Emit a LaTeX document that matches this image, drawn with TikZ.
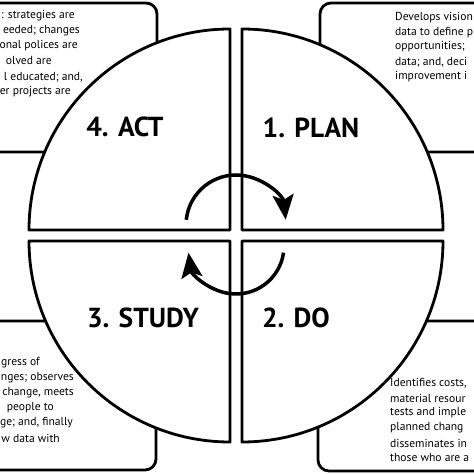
\documentclass[tikz,border=0pt]{standalone}
\usepackage{fontspec}
\setmainfont{PT Sans}
\usetikzlibrary{arrows.meta}
\begin{document}
\begin{tikzpicture}[x=1pt,y=1pt,
  outl/.style={line width=2.8pt, line join=round},
  infobox/.style={outl, fill=white, rounded corners=11pt},
  quad/.style={outl, fill=white},
  bodytext/.style={inner sep=0pt, font=\fontsize{11.6}{13}\selectfont},
  phase/.style={inner sep=0pt, font=\fontsize{27.5}{30}\selectfont\bfseries},
  cyc/.style={line width=3.5pt, -{Stealth[length=25pt,width=21pt,inset=5pt]}}]
\useasboundingbox (0,0) rectangle (474,474);
\clip (0,0) rectangle (474,474);
% info boxes
\draw[infobox] (-20,322) rectangle (157,471);
\draw[infobox] (320,322) rectangle (494,471);
\draw[infobox] (-20,4) rectangle (156,153);
\draw[infobox] (318,3) rectangle (494,153);
% quadrants
\draw[quad] (230,244) -- ++(-201,0) arc (180:90:201) -- cycle;
\draw[quad] (242,244) -- ++(0,201) arc (90:0:201) -- cycle;
\draw[quad] (230,233) -- ++(-201,0) arc (180:270:201) -- cycle;
\draw[quad] (242,233) -- ++(201,0) arc (0:-90:201) -- cycle;
% texts top-left
\node[bodytext, anchor=east] (tl1) at (75,458) {: strategies are};
\node[bodytext, anchor=east] (tl2) at (80,443) {eeded; changes};
\node[bodytext, anchor=east] (tl3) at (78,428) {onal polices are};
\node[bodytext, anchor=east] (tl4) at (52,413) {olved are};
\node[bodytext, anchor=east] (tl5) at (83,397) {l educated; and,};
\node[bodytext, anchor=east] (tl6) at (71,382) {er projects are};
% texts top-right
\node[bodytext, anchor=west] (tr1) at (395,456) {Develops vision};
\node[bodytext, anchor=west] (tr2) at (395,441) {data to define p};
\node[bodytext, anchor=west] (tr3) at (395,427) {opportunities;};
\node[bodytext, anchor=west] (tr4) at (395,412) {data; and, deci};
\node[bodytext, anchor=west] (tr5) at (395,397) {improvement i};
% texts bottom-left
\node[bodytext, anchor=east] (bl1) at (40,111) {gress of};
\node[bodytext, anchor=east] (bl2) at (74,96) {nges; observes};
\node[bodytext, anchor=east] (bl3) at (74,81) {change, meets};
\node[bodytext, anchor=east] (bl4) at (54,66) {people to};
\node[bodytext, anchor=east] (bl5) at (73,51) {ge; and, finally};
\node[bodytext, anchor=east] (bl6) at (60,36) {w data with};
% texts bottom-right
\node[bodytext, anchor=west] (br1) at (390,91) {Identifies costs,};
\node[bodytext, anchor=west] (br2) at (390,76) {material resour};
\node[bodytext, anchor=west] (br3) at (390,61) {tests and imple};
\node[bodytext, anchor=west] (br4) at (390,46) {planned chang};
\node[bodytext, anchor=west] (br5) at (390,31) {disseminates in};
\node[bodytext, anchor=west] (br6) at (390,16) {those who are a};
% phase labels
\node[phase] (act) at (125,347) {4. ACT};
\node[phase] (plan) at (311,346) {1. PLAN};
\node[phase] (study) at (143,156) {3. STUDY};
\node[phase] (do) at (296,156) {2. DO};
% cycle arrows
\coordinate (hubu) at (236,249);
\coordinate (hubl) at (236,228);
\draw[cyc] ([shift={(174:50)}]hubu) arc (174:6:50);
\draw[cyc] ([shift={(-8:48)}]hubl) arc (-8:-172:48);
\end{tikzpicture}
\end{document}
